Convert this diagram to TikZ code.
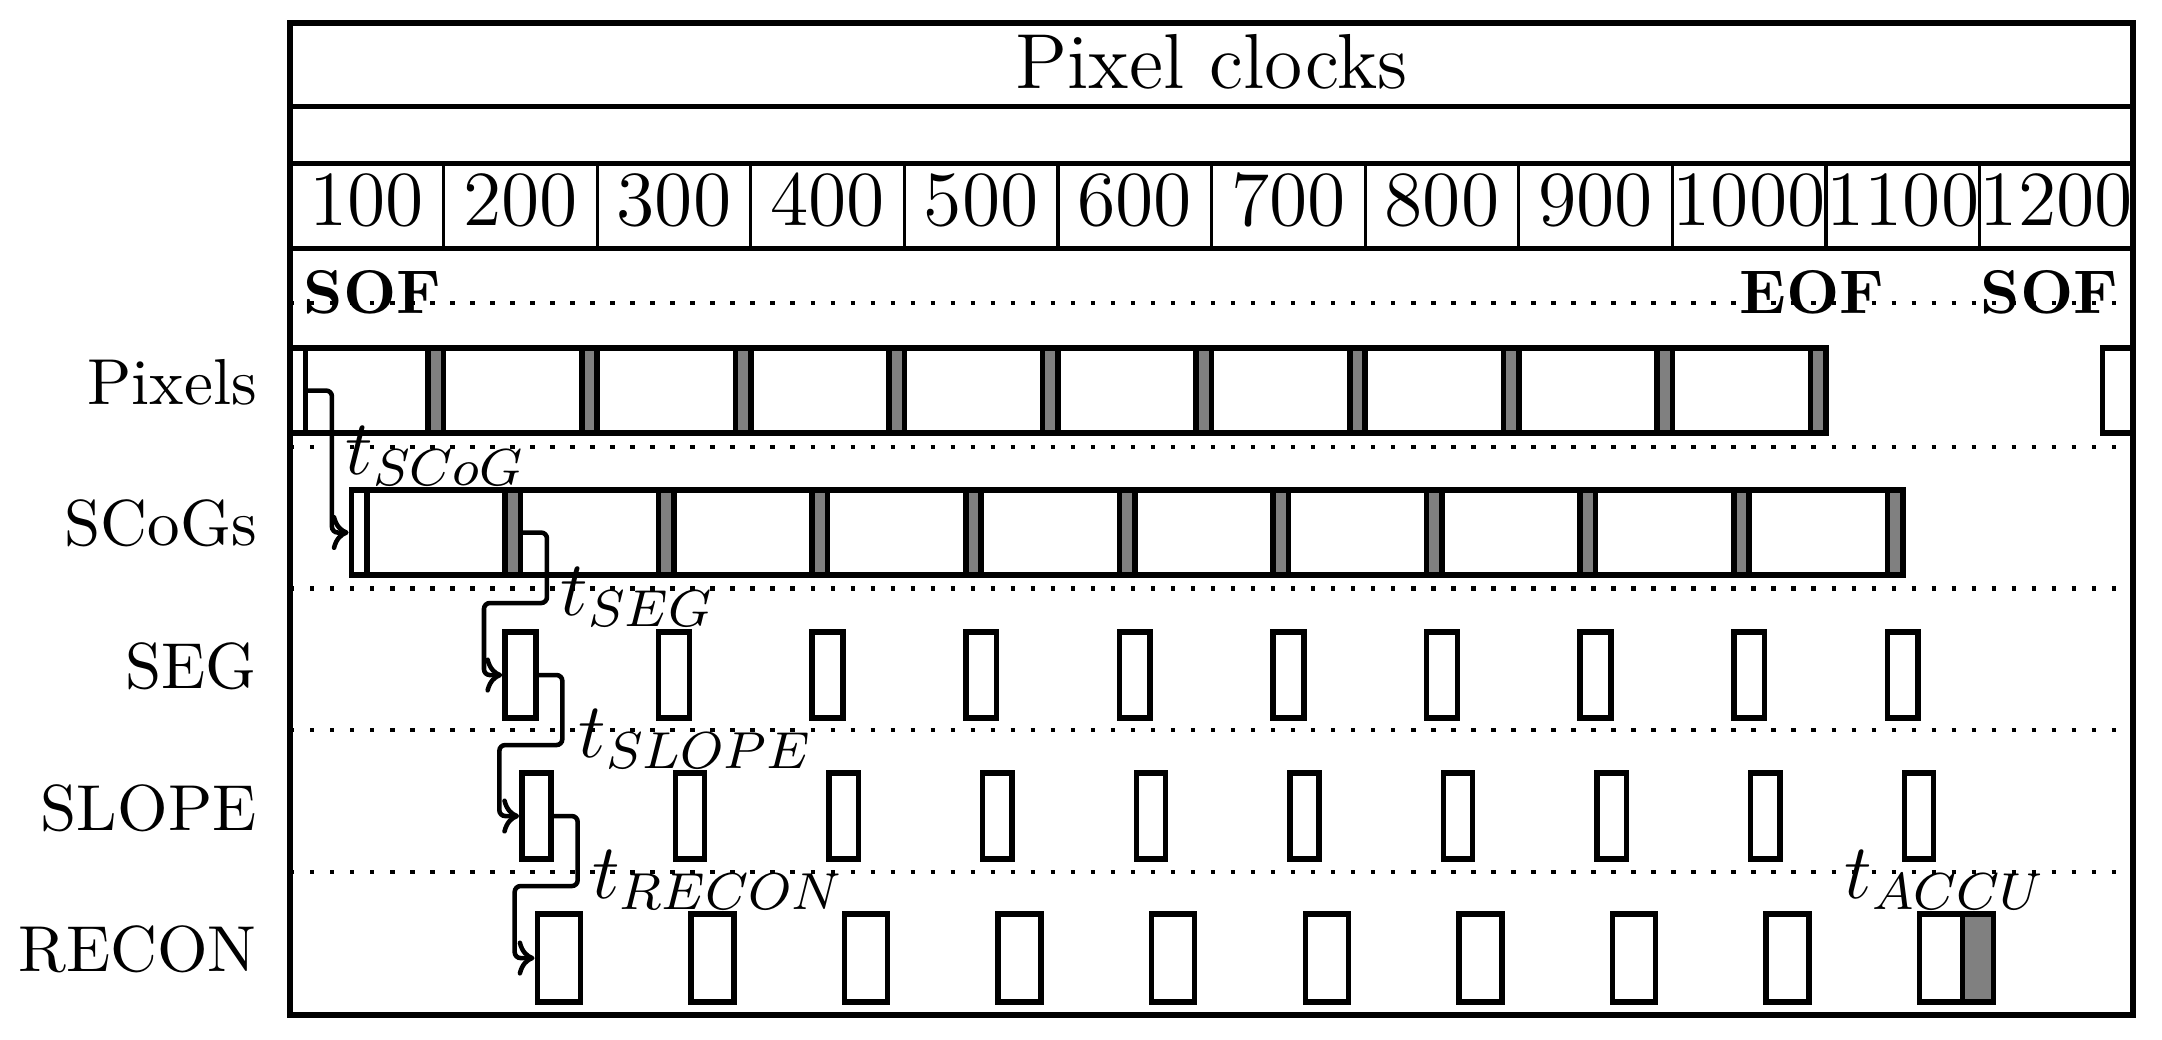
\documentclass[tikz,border=0pt]{standalone}
\usetikzlibrary{fit,arrows.meta}
\begin{document}
\begin{tikzpicture}[x=2.3631pt, y=-0.15385pt,
  framest/.style={line width=0.9pt},
  rowline/.style={line width=0.75pt},
  divline/.style={line width=0.5pt},
  dotline/.style={line width=0.68pt, dash pattern=on 0.68pt off 2.4pt},
  boxst/.style={draw, line width=0.85pt, inner sep=0pt, rectangle},
  graybox/.style={boxst, fill=gray},
  arr/.style={line width=0.7pt, rounded corners=0.9pt, -{To[length=2.6pt,width=5.4pt]}},
  lbl/.style={anchor=base east, inner sep=0pt, font=\normalsize},
  tlbl/.style={anchor=base west, inner sep=0pt, font=\large},
  numst/.style={anchor=base, inner sep=0pt, font=\large},
  markst/.style={anchor=base west, inner sep=0pt, font=\fontsize{9.5}{11}\selectfont\bfseries}
]
\useasboundingbox (-18.88,0) rectangle (121.875,1039);

% frame and header rows
\draw[framest] (0,22.7) rectangle (120,1015);
\draw[rowline] (0,106.7) -- (120,106.7);
\draw[rowline] (0,163.3) -- (120,163.3);
\draw[rowline] (0,248.3) -- (120,248.3);
\node[anchor=base, inner sep=0pt, font=\large] (title) at (60,88) {Pixel clocks};
\foreach \k in {1,...,11} \draw[divline] (10*\k,163.3) -- (10*\k,248.3);
\foreach \k in {1,...,12} {
  \pgfmathtruncatemacro\v{100*\k}
  \node[numst] (n\k) at (10*\k-5,225) {\v};
}

% dotted separators
\foreach \y in {303,447,588.6,730.2,871.8} \draw[dotline] (0,\y) -- (120,\y);

% SOF / EOF marks
\node[markst] (sof1) at (0.8,313) {SOF};
\node[markst] (eof) at (94.3,313) {EOF};
\node[markst] (sof2) at (110.0,313) {SOF};

% row labels
\node[lbl] (lpix) at (-2.083,404) {Pixels};
\node[lbl] (lscog) at (-2.083,545.5) {SCoGs};
\node[lbl] (lseg) at (-2.083,688) {SEG};
\node[lbl] (lslope) at (-2.083,830) {SLOPE};
\node[lbl] (lrecon) at (-2.083,971) {RECON};

% Pixels row
\foreach \k in {0,...,9} {
  \node[boxst, fit={(10*\k,348) (10*\k+10,433)}] (pix\k) {};
  \node[graybox, fit={(10*\k+9,348) (10*\k+10,433)}] (pg\k) {};
}
\node[boxst, fit={(0,348) (1,433)}] (pxs) {};
\node[boxst, fit={(118,348) (120,433)}] (pixn) {};

% SCoGs row
\foreach \k in {0,...,9} {
  \node[boxst, fit={(10*\k+5,490) (10*\k+15,575)}] (sc\k) {};
  \node[graybox, fit={(10*\k+14,490) (10*\k+15,575)}] (sg\k) {};
}
\node[boxst, fit={(4,490) (5,575)}] (scs) {};

% SEG, SLOPE, RECON rows
\foreach \k in {0,...,9} {
  \node[boxst, fit={(10*\k+14,632) (10*\k+16,718)}] (seg\k) {};
  \node[boxst, fit={(10*\k+15.1,773) (10*\k+17,859)}] (slope\k) {};
  \node[boxst, fit={(10*\k+16.1,914) (10*\k+18.9,1002)}] (recon\k) {};
}
\node[graybox, fit={(108.9,914) (110.9,1002)}] (accu) {};

% latency labels
\node[tlbl] (tscog) at (3.55,474) {$t_{SCoG}$};
\node[tlbl] (tseg) at (17.55,615) {$t_{SEG}$};
\node[tlbl] (tslope) at (18.72,757) {$t_{SLOPE}$};
\node[tlbl] (trecon) at (19.6,898) {$t_{RECON}$};
\node[tlbl] (taccu) at (101.15,898) {$t_{ACCU}$};

% connectors
\draw[arr] (pxs.east) -- ++(1.55,0) |- (scs.west);
\draw[arr] (sg0.east) -- ++(1.55,0) -- ++(0,70.5) -- ++(-4.1,0) |- (seg0.west);
\draw[arr] (seg0.east) -- ++(1.55,0) -- ++(0,70) -- ++(-4.1,0) |- (slope0.west);
\draw[arr] (slope0.east) -- ++(1.55,0) -- ++(0,70) -- ++(-4.1,0) |- (recon0.west);
\end{tikzpicture}
\end{document}
